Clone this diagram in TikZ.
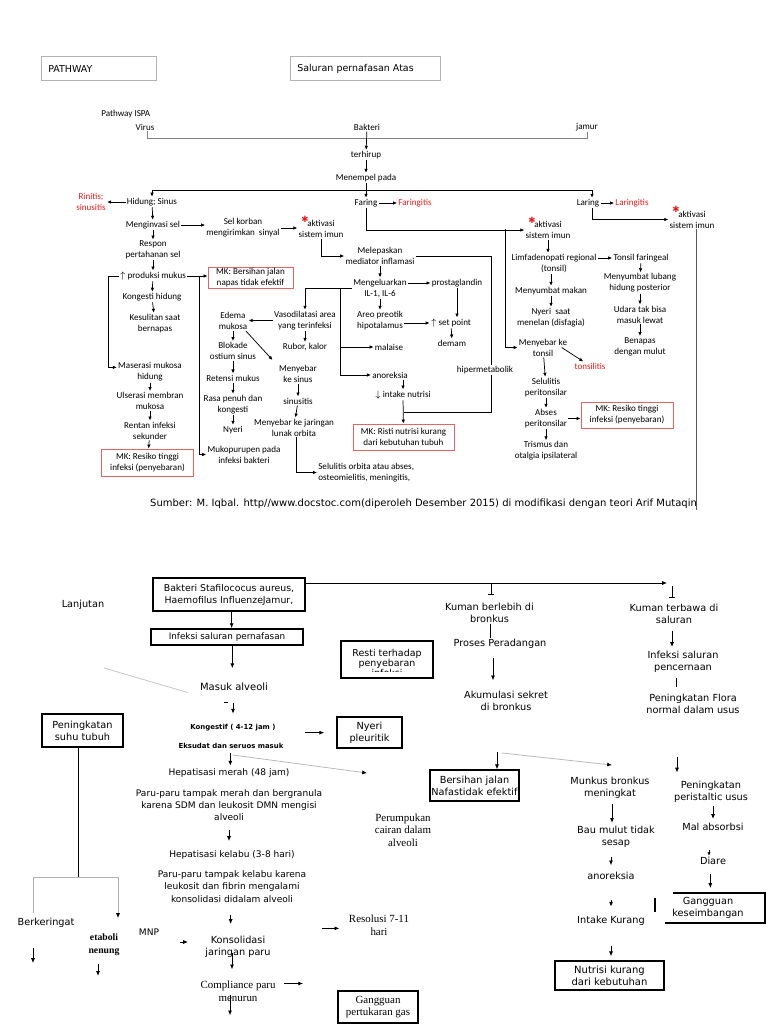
\documentclass[tikz,border=0pt]{standalone}
\usepackage{fontspec}
\usepackage{graphicx}
\setmainfont{DejaVu Sans}
\newfontfamily\carl{Carlito}
\newfontfamily\dvs{DejaVu Sans}
\newfontfamily\lser{Liberation Serif}
\usetikzlibrary{arrows.meta}
\definecolor{mkred}{RGB}{226,100,100}
\definecolor{txred}{RGB}{232,30,30}
\tikzset{
 ut/.style={font=\carl\fontsize{6.8}{8.2}\selectfont, align=center, inner sep=0.8pt},
 rt/.style={ut, text=txred},
 mk/.style={ut, draw=mkred, line width=0.6pt},
 lt/.style={font=\dvs\fontsize{7.3}{9}\selectfont, align=center, inner sep=1pt},
 lts/.style={font=\dvs\fontsize{6.8}{9.2}\selectfont, align=center, inner sep=1pt},
 lb/.style={font=\dvs\bfseries\fontsize{5.2}{6}\selectfont, align=center, inner sep=1pt},
 st/.style={font=\lser\fontsize{8.2}{9.6}\selectfont, align=center, inner sep=1pt},
 lbox/.style={lt, draw, line width=1.1pt},
 ua/.style={-{Latex[length=3pt,width=2.6pt]}, line width=0.55pt},
 la/.style={-{Latex[length=3.6pt,width=3pt]}, line width=0.6pt},
 starmark/.style={text=txred, font=\dvs\fontsize{6.5}{6.5}\selectfont, inner sep=0pt},
 hdr/.style={draw=gray!60, line width=0.9pt, font=\dvs\fontsize{7.1}{8}\selectfont, anchor=north west, align=left, inner xsep=5pt}
}
\begin{document}
\begin{tikzpicture}[x=0.75pt,y=-0.75pt]
\fill[white] (0,0) rectangle (768,1024);
\path[use as bounding box] (0,0) rectangle (768,1024);

% ---------------- headers
\node[hdr, minimum width=86.25pt, minimum height=18pt, text width=76.25pt] (pw) at (41,56) {PATHWAY};
\node[hdr, minimum width=112.5pt, minimum height=18pt, text width=102.5pt] (sal) at (290,56) {Saluran pernafasan Atas};

% ---------------- upper nodes
\node[ut, anchor=west] (pisp) at (100,114) {Pathway ISPA};
\node[ut] (virus) at (145,127) {Virus};
\node[ut] (bakt) at (367,127) {Bakteri};
\node[ut] (jamur) at (587,127) {jamur};
\node[ut] (terh) at (366,155) {terhirup};
\node[ut] (menem) at (366,178) {Menempel pada};
\node[ut] (hid) at (152,202) {Hidung; Sinus};
\node[rt] (rin) at (91,202) {Rinitis;\\sinusitis};
\node[ut] (far) at (366,203) {Faring};
\node[rt] (faritis) at (415,203) {Faringitis};
\node[ut] (lar) at (588,203) {Laring};
\node[rt] (laritis) at (632,203) {Laringitis};
\node[ut] (menginv) at (153,225) {Menginvasi sel};
\node[ut] (selk) at (243,228) {Sel korban\\mengirimkan~ sinyal};
\node[ut] (akt1) at (321,229) {aktivasi\\sistem imun};
\node[starmark] (st1) at (305,219) {✱};
\node[ut] (akt2) at (548,230) {aktivasi\\sistem imun};
\node[starmark] (st2) at (532,220) {✱};
\node[ut] (akt3) at (692,219.5) {aktivasi\\sistem imun};
\node[starmark] (st3) at (676,209) {✱};
\node[ut] (resp) at (153,250) {Respon\\pertahanan sel};
\node[ut] (prod) at (153,276) {$\uparrow$ produksi mukus};
\node[mk, minimum width=63.75pt, minimum height=15.75pt] (mk1) at (250.5,277.5) {MK: Bersihan jalan\\napas tidak efektif};
\node[ut] (kong) at (152,297) {Kongesti hidung};
\node[ut] (kesul) at (155,323.5) {Kesulitan saat\\bernapas};
\node[ut] (maser) at (150,372) {Maserasi mukosa\\hidung};
\node[ut] (ulser) at (150,401) {Ulserasi membran\\mukosa};
\node[ut] (rent) at (150,430.5) {Rentan infeksi\\sekunder};
\node[mk, minimum width=69pt, minimum height=20.25pt] (mk2) at (147.5,462.5) {MK: Resiko tinggi\\infeksi (penyebaran)};
\node[ut] (muko) at (244,454.5) {Mukopurupen pada\\infeksi bakteri};
\node[ut] (edema) at (233,321) {Edema\\mukosa};
\node[ut] (blok) at (233,351) {Blokade\\ostium sinus};
\node[ut] (ret) at (233,378) {Retensi mukus};
\node[ut] (rasa) at (233,404.5) {Rasa penuh dan\\kongesti};
\node[ut] (nyeri) at (233,430) {Nyeri};
\node[ut] (vaso) at (305,320.5) {Vasodilatasi area\\yang terinfeksi};
\node[ut] (rubor) at (305,347) {Rubor, kalor};
\node[ut] (mks) at (298,374) {Menyebar\\ke sinus};
\node[ut] (sinus) at (298,401) {sinusitis};
\node[ut] (jar) at (294,427.5) {Menyebar ke jaringan\\lunak orbita};
\node[ut, anchor=west, align=left] (selu) at (317,472.5) {Selulitis orbita atau abses,\\osteomielitis, meningitis,};
\node[ut] (mel) at (380,256) {Melepaskan\\mediator inflamasi};
\node[ut] (mengl) at (380,288) {Mengeluarkan\\IL-1, IL-6};
\node[ut] (pros) at (457,283) {prostaglandin};
\node[ut] (areo) at (380,320.5) {Areo preotik\\hipotalamus};
\node[ut] (setp) at (451,323) {$\uparrow$ set point};
\node[ut] (demam) at (452,343) {demam};
\node[ut] (mal) at (389,347) {malaise};
\node[ut] (ano) at (390,375) {anoreksia};
\node[ut] (intk) at (403,395) {$\downarrow$ intake nutrisi};
\node[mk, minimum width=75.75pt, minimum height=19.5pt] (mk3) at (403.5,437) {MK: Risti nutrisi kurang\\dari kebutuhan tubuh};
\node[ut] (hiper) at (485,370) {hipermetabolik};
\node[ut] (limf) at (554,263.5) {Limfadenopati regional\\(tonsil)};
\node[ut] (tf) at (641,258) {Tonsil faringeal};
\node[ut] (mmak) at (551,291) {Menyumbat makan};
\node[ut] (nyer2) at (551,317.5) {Nyeri~ saat\\menelan (disfagia)};
\node[ut] (mtons) at (543,347.5) {Menyebar ke\\tonsil};
\node[rt] (tonsi) at (590,366) {tonsilitis};
\node[ut] (selp) at (546,387.5) {Selulitis\\peritonsilar};
\node[ut] (abses) at (546,418.5) {Abses\\peritonsilar};
\node[mk, minimum width=69pt, minimum height=19.5pt] (mk4) at (627,415) {MK: Resiko tinggi\\infeksi (penyebaran)};
\node[ut] (tris) at (546,451) {Trismus dan\\otalgia ipsilateral};
\node[ut] (mlub) at (640,283) {Menyumbat lubang\\hidung posterior};
\node[ut] (udara) at (640,314.5) {Udara tak bisa\\masuk lewat};
\node[ut] (benap) at (640,346.5) {Benapas\\dengan mulut};
\node[font=\dvs\fontsize{6.7}{8}\selectfont, inner sep=0pt] (sumber) at (423.5,504) {\resizebox{410pt}{!}{Sumber: M. Iqbal. http//www.docstoc.com(diperoleh Desember 2015) di modifikasi dengan teori Arif Mutaqin}};

% ---------------- upper connectors
\draw[gray, line width=0.6pt] ([xshift=1.5pt]virus.south) -- ([xshift=1.5pt]virus.south |- 0,138) -- (jamur.south |- 0,138) -- (jamur.south);
\draw[ua] (bakt) -- (terh);
\draw[ua] (terh) -- (menem);
\draw[ua] (menem) -- (far);
\coordinate (j190) at (366,190);
\draw[ua] (j190) -| (hid.north);
\draw[ua] (j190) -| ([xshift=3pt]lar.north);
\draw[ua] (hid) -- (rin);
\draw[ua] (far) -- (faritis);
\draw[ua] (lar) -- (laritis);
\draw[ua] (hid) -- (menginv);
\draw[ua] (menginv.east) -- (menginv.east -| selk.west);
\draw[ua] (selk.east) -- (selk.east -| akt1.west);
\draw[ua] (menginv) -- (resp);
\draw[ua] (resp) -- (prod);
\draw[ua] (prod) -- (kong);
\draw[ua] (kong) -- (kesul);
\draw[ua] (prod.east) -- (prod.east -| mk1.west);
\draw[ua] ([xshift=9pt]prod.east) |- (muko.west);
\draw[ua] (prod.west) -- ++(-10,0) |- ([yshift=3.5pt]maser.west);
\draw[ua] (maser) -- (ulser);
\draw[ua] (ulser) -- (rent);
\draw[ua] (rent) -- (mk2);
\draw[ua] (vaso.west) -- (vaso.west -| edema.east);
\draw[ua] (edema) -- (blok);
\draw[ua] (blok) -- (ret);
\draw[ua] (ret) -- (rasa);
\draw[ua] (rasa) -- (nyeri);
\draw[ua] ([xshift=-2pt]edema.south east) -- ([xshift=-4pt,yshift=3pt]mks.north west);
\draw[ua] (vaso) -- (rubor);
\draw[ua] (mks) -- (sinus);
\draw[ua] (sinus) -- (jar);
\draw[ua] ([xshift=1.5pt]jar.south) |- (selu.west);
\draw[ua] (akt1.south) |- (mel.west);
\draw[ua] (mel) -- (mengl);
\draw[ua] (mengl.east |- pros) -- (pros.west);
\draw[ua] (mengl) -- (areo);
\draw[ua] (areo.east |- setp) -- (setp.west);
\draw[ua] (pros.south) -- (pros.south |- setp.north);
\draw[ua] (setp) -- (demam);
\draw[ua] (mengl.west) -| (vaso.north);
\coordinate (v340) at (340,288);
\draw[ua] (v340) |- (mal.west);
\draw[ua] (v340) |- (ano.west);
\draw[ua] (ano.south -| intk.north) -- (intk.north);
\draw[ua] (intk) -- (mk3);
\draw[line width=0.55pt] (mel.east) -| ([xshift=5pt]hiper.north);
\draw[line width=0.55pt] ([xshift=5pt]hiper.south) |- (mk3.north |- 0,412);
\draw[ua] (far.south) |- (akt2.west);
\coordinate (v505) at (505,229);
\draw[ua] (v505) |- (mtons.west);
\draw[ua] (akt2.south) -- (akt2.south |- limf.north);
\draw[ua] (limf.east |- tf) -- (tf.west);
\draw[ua] (mmak.north |- limf.south) -- (mmak.north);
\draw[ua] (mmak) -- (nyer2);
\draw[ua] ([xshift=-5pt]mtons.east) -- ([xshift=-5pt]tonsi.north);
\draw[ua] (mtons) -- (selp);
\draw[ua] (selp) -- (abses);
\draw[ua] (abses) -- (tris);
\draw[ua] (abses.east) -- (abses.east -| mk4.west);
\draw[ua] (tf) -- (mlub);
\draw[ua] (mlub) -- (udara);
\draw[ua] (udara) -- (benap);
\draw[ua] ([xshift=3pt]lar.south) |- (akt3.west);
\draw[line width=0.7pt, gray!70!black] ([xshift=3pt]akt3.south) -- ([xshift=3pt]akt3.south |- 0,510);

% ---------------- lower nodes
\node[lt] (lanj) at (83,605) {Lanjutan};
\node[lbox, font=\dvs\fontsize{7}{9}\selectfont, minimum width=114pt, minimum height=24.75pt] (bak) at (229,594.5) {Bakteri Stafilococus aureus,\\Haemofilus InfluenzeJamur,};
\node[lt] (kb) at (489.5,612.5) {Kuman berlebih di\\bronkus};
\node[lt] (kt) at (674,614) {Kuman terbawa di\\saluran};
\node[lbox, font=\dvs\fontsize{6.6}{8}\selectfont, minimum width=114pt, minimum height=12pt, line width=1.4pt] (isp) at (227,637) {Infeksi saluran pernafasan};
\node[lt] (pp) at (500,644) {Proses Peradangan};
\node[lbox, minimum width=69pt, minimum height=27.75pt] (resti) at (387,659.5) {};
\begin{scope}
\clip (343,643) rectangle (431,671);
\node[lt, font=\dvs\fontsize{7.1}{7.5}\selectfont] (restit) at (387,663) {Resti terhadap\\penyebaran\\infeksi};
\end{scope}
\node[lt] (inf) at (683,662) {Infeksi saluran\\pencernaan};
\node[lt, font=\dvs\fontsize{7.5}{9}\selectfont] (masuk) at (234,687) {Masuk alveoli};
\node[lt] (aku) at (506,701) {Akumulasi sekret\\di bronkus};
\node[lt] (flora) at (693,704) {Peningkatan Flora\\normal dalam usus};
\node[lbox, minimum width=60.75pt, minimum height=24.75pt] (suhu) at (82.5,730.5) {Peningkatan\\suhu tubuh};
\node[lb] (kongf) at (233,728) {Kongestif ( 4-12 jam )};
\node[lbox, minimum width=48.75pt, minimum height=23.25pt] (nypl) at (369.5,732.5) {Nyeri\\pleuritik};
\node[lb] (eks) at (231,746) {Eksudat dan seruos masuk};
\node[lts] (hepm) at (229,773) {Hepatisasi merah (48 jam)};
\node[lbox, minimum width=59.25pt, minimum height=23.25pt] (bers) at (474.5,785.5) {Bersihan jalan\\Nafastidak efektif};
\node[lt] (munk) at (610,788) {Munkus bronkus\\meningkat};
\node[lt] (peri) at (711,791.5) {Peningkatan\\peristaltic usus};
\node[lts, font=\dvs\fontsize{6.8}{9.2}\selectfont] (paru1) at (229,805) {Paru-paru tampak merah dan bergranula\\karena SDM dan leukosit DMN mengisi\\alveoli};
\node[st, font=\lser\fontsize{8.2}{9.5}\selectfont] (perum) at (403,830) {Perumpukan\\cairan dalam\\alveoli};
\node[lt] (mal2) at (713,827) {Mal absorbsi};
\node[lt] (bau) at (616,836.5) {Bau mulut tidak\\sesap};
\node[lts] (hepk) at (232,855) {Hepatisasi kelabu (3-8 hari)};
\node[lt] (diare) at (713,861) {Diare};
\node[lt] (ano2) at (611,876) {anoreksia};
\node[lts, font=\dvs\fontsize{6.8}{9.4}\selectfont] (paru2) at (232,886.5) {Paru-paru tampak kelabu karena\\leukosit dan fibrin mengalami\\konsolidasi didalam alveoli};
\node[lt] (gkes) at (708,908) {Gangguan\\keseimbangan};
\node[lt] (intk2) at (611,921) {Intake Kurang};
\node[lt] (berk) at (46,923) {Berkeringat};
\node[st] (resol) at (379,925.5) {Resolusi 7-11\\hari};
\node[lt, font=\dvs\fontsize{6.8}{9}\selectfont] (mnp) at (149,932) {MNP};
\node[st, font=\lser\bfseries\fontsize{7.3}{9.5}\selectfont] (etab) at (104,944.5) {etaboli\\nenung};
\node[lt] (kons) at (238,947) {Konsolidasi\\jaringan paru};
\node[lbox, font=\dvs\fontsize{7.5}{9}\selectfont, minimum width=81.75pt, minimum height=21.75pt] (nutr) at (609.5,975.5) {Nutrisi kurang\\dari kebutuhan};
\node[st] (comp) at (238,991.5) {Compliance paru\\menurun};
\node[st, draw, line width=1.1pt, minimum width=60pt, minimum height=24pt] (gpg) at (378,1007) {Gangguan\\pertukaran gas};

% ---------------- lower connectors
\coordinate (e667) at (667,583);
\draw[la] (bak.east |- e667) -- (e667);
\draw[-{Bar[width=4pt]}, line width=0.6pt] (491,583) -- (491,595);
\draw[-{Bar[width=4pt]}, line width=0.6pt] (672,586) -- (672,598);
\draw[line width=0.6pt] ([xshift=1pt]kb.south) -- ([xshift=1pt]kb.south |- pp.north);
\draw[la, shorten <=6pt, shorten >=7pt] (pp.south -| 493,0) -- (aku.north -| 493,0);
\draw[la, shorten <=4pt, shorten >=2pt] ([xshift=-1.5pt]kt.south) -- ([xshift=-1.5pt]kt.south |- inf.north);
\draw[line width=0.6pt, shorten <=3pt, shorten >=4pt] ([xshift=-5pt]inf.south) -- ([xshift=-5pt]inf.south |- flora.north);
\draw[la, shorten <=31pt, shorten >=5pt] (flora.south -| 677,0) -- (peri.north -| 677,0);
\draw[la, shorten <=2pt, shorten >=2pt] (peri.south -| mal2.north) -- (mal2.north);
\draw[-{Latex[length=2.5pt,width=2.6pt]}, line width=0.5pt] ([xshift=-3pt,yshift=4pt]diare.north) -- ([xshift=-3pt]diare.north);
\draw[la, shorten <=6pt] ([xshift=-2pt]diare.south) -- ([xshift=-2pt]diare.south |- 0,888);
\draw[la, shorten <=30pt] (aku.south -| 497,0) -- (bers.north -| 497,0);
\coordinate (g502) at (502,753);
\draw[gray!55, line width=0.6pt, -{Latex[length=3.6pt,width=3pt,color=black]}] (g502) -- ([xshift=1.5pt,yshift=8pt]munk.north);
\draw[la, shorten <=3pt, shorten >=1pt] ([xshift=1.5pt]munk.south) -- ([xshift=1.5pt]munk.south |- bau.north);
\draw[la, shorten <=6pt, shorten >=4pt] (ano2.north |- bau.south) -- (ano2.north);
\draw[la, shorten <=14pt, shorten >=6pt] (ano2.south) -- (intk2.north);
\draw[la, shorten <=14pt, shorten >=3pt] (intk2.south) -- (intk2.south |- nutr.north);
\draw[line width=1.2pt] (673,893) -- (765,893) -- (765,923) -- (665,923);
\draw[line width=1.2pt] (655,898) -- (655,912);

\draw[la] ([xshift=2pt]bak.south) -- ([xshift=2pt]bak.south |- isp.north);
\draw[la, shorten >=10pt] ([xshift=4pt]isp.south) -- ([xshift=4pt]isp.south |- masuk.north);
\draw[gray!45, line width=0.6pt] (104,668) -- ([xshift=-8pt]masuk.south west);
\draw[line width=0.5pt] (224,702) -- (228,702);
\draw[la, shorten <=8pt, shorten >=7pt] (masuk.south -| kongf.north) -- (kongf.north);
\draw[la, shorten <=21pt, shorten >=9pt] ([yshift=-3.5pt]kongf.east) -- ([yshift=-3.5pt]kongf.east -| nypl.west);
\draw[la, shorten <=2pt, shorten >=1pt] ([xshift=-0.5pt]eks.south) -- ([xshift=-0.5pt]eks.south |- hepm.north);
\coordinate (g233) at (233,755);
\draw[gray!55, line width=0.6pt, -{Latex[length=3.6pt,width=3pt,color=black]}] (g233) -- (367,773);
\draw[la, shorten <=6pt, shorten >=6pt] (paru1.south) -- (paru1.south |- hepk.north);
\draw[la, shorten <=8pt, shorten >=8pt] ([xshift=-1pt]paru2.south) -- ([xshift=-1pt]paru2.south |- kons.north);
\coordinate (m180) at (180,942);
\draw[la] (m180) -- (188,942);
\draw[la, shorten <=37pt, shorten >=6pt] ([yshift=14pt]kons.east) -- ([yshift=14pt]kons.east -| resol.west);
\draw[la] ([xshift=-4.5pt]kons.south) ++(0,-6) -- ++(0,16);
\draw[la, shorten <=5pt] ([yshift=6pt]comp.east) -- ++(26,0);
\draw[la] ([xshift=-6pt]comp.south) ++(0,-8) -- ++(0,20);

\draw[line width=0.7pt] (suhu.south -| 78,0) -- (78,877);
\draw[gray!60, line width=0.7pt] (33,877) -- (118,877);
\draw[gray!60, line width=0.7pt] (33,877) -- (33,913);
\draw[gray!60, line width=0.7pt, -{Latex[length=3.6pt,width=3pt,color=black]}] (118,877) -- (118,918);
\draw[la, shorten <=14pt] (berk.south -| 33,0) -- (33,963);
\draw[la, shorten <=5pt] ([xshift=-4.5pt]etab.south) -- ++(0,19);
\end{tikzpicture}
\end{document}
